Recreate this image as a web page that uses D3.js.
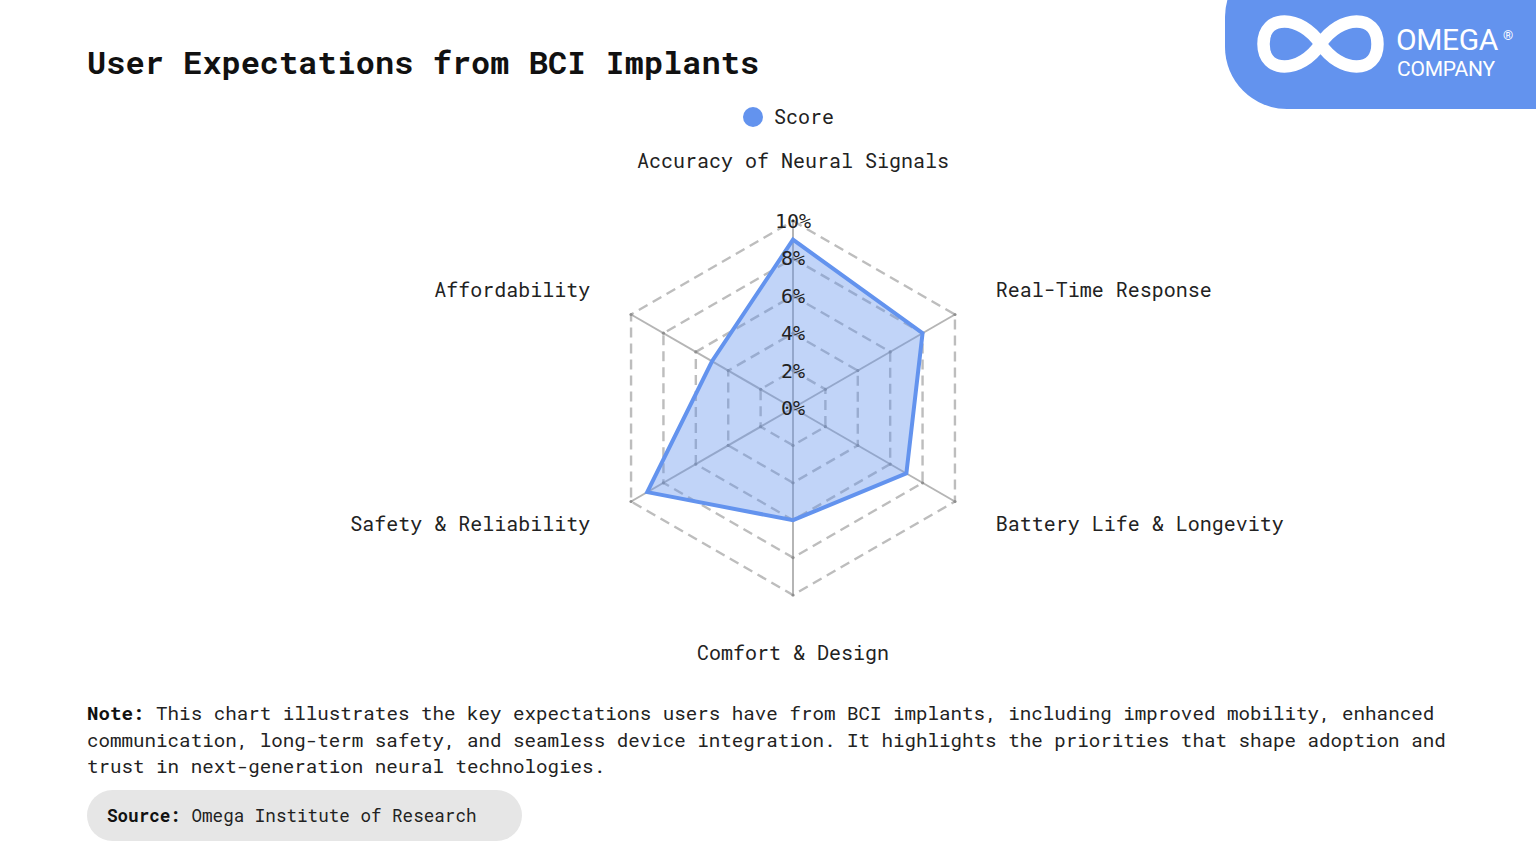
<!DOCTYPE html>
<html>
<head>
<meta charset="utf-8">
<script src="https://cdn.jsdelivr.net/npm/d3@7"></script>
<style>
  html, body { margin: 0; padding: 0; background: #fff; }
  svg { display: block; }
</style>
</head>
<body>
<svg id="chart" width="1536" height="864"></svg>
<script>
const categories = [
  "Accuracy of Neural Signals",
  "Real-Time Response",
  "Battery Life & Longevity",
  "Comfort & Design",
  "Safety & Reliability",
  "Affordability"
];
const scores = [9, 8, 7, 6, 9, 5];
const tickValues = [0, 2, 4, 6, 8, 10];
const tickLabels = ["0%", "2%", "4%", "6%", "8%", "10%"];
const seriesName = "Score";
const titleText = "User Expectations from BCI Implants";
const noteLines = [
  "This chart illustrates the key expectations users have from BCI implants, including improved mobility, enhanced",
  "communication, long-term safety, and seamless device integration. It highlights the priorities that shape adoption and",
  "trust in next-generation neural technologies."
];
const sourceText = "Omega Institute of Research";

const BLUE = "#6393ee";
const svg = d3.select("#chart");
const mono = '"Roboto Mono", "DejaVu Sans Mono", monospace';

// Logo
const logo = svg.append("g");
logo.append("rect").attr("x", 1225).attr("y", -45).attr("width", 420).attr("height", 154)
  .attr("rx", 62).attr("ry", 62).attr("fill", BLUE);
const cx0 = 1320.5, cy0 = 44;
const p = d3.path();
p.moveTo(cx0, cy0);
p.bezierCurveTo(cx0 + 20, cy0 - 30, cx0 + 57, cy0 - 30, cx0 + 57, cy0);
p.bezierCurveTo(cx0 + 57, cy0 + 30, cx0 + 20, cy0 + 30, cx0, cy0);
p.bezierCurveTo(cx0 - 20, cy0 - 30, cx0 - 57, cy0 - 30, cx0 - 57, cy0);
p.bezierCurveTo(cx0 - 57, cy0 + 30, cx0 - 20, cy0 + 30, cx0, cy0);
logo.append("path").attr("d", p.toString()).attr("fill", "none")
  .attr("stroke", "#fff").attr("stroke-width", 12.5).attr("stroke-linejoin", "round");
logo.append("text").attr("x", 1396).attr("y", 50).attr("fill", "#fff")
  .attr("font-family", "Roboto, sans-serif").attr("font-size", 30).attr("letter-spacing", -0.4)
  .text("OMEGA");
logo.append("text").attr("x", 1503).attr("y", 40).attr("fill", "#fff")
  .attr("font-family", "Roboto, sans-serif").attr("font-size", 13).text("®");
logo.append("text").attr("x", 1397).attr("y", 76).attr("fill", "#fff")
  .attr("font-family", "Roboto, sans-serif").attr("font-size", 21).attr("letter-spacing", -0.2)
  .text("COMPANY");

// Title
svg.append("text").attr("x", 87).attr("y", 74).attr("font-family", mono)
  .attr("font-size", 32).attr("font-weight", "bold").attr("fill", "#111").text(titleText);

// Legend
svg.append("circle").attr("cx", 753).attr("cy", 117).attr("r", 10).attr("fill", BLUE);
svg.append("text").attr("x", 774).attr("y", 117).attr("dy", "0.35em").attr("font-family", mono)
  .attr("font-size", 20).attr("fill", "#222").text(seriesName);

// Radar
const cx = 793, cy = 408, R = 187;
const r = d3.scaleLinear().domain([0, 10]).range([0, R]);
const n = categories.length;
const angle = i => i * 2 * Math.PI / n;
const g = svg.append("g").attr("transform", `translate(${cx},${cy})`);

const ringLine = d3.lineRadial().angle((d, i) => angle(i)).radius(d => d).curve(d3.curveLinearClosed);
tickValues.filter(t => t > 0).forEach(t => {
  g.append("path").attr("d", ringLine(categories.map(() => r(t))))
    .attr("fill", "none").attr("stroke", "#bdbdbd").attr("stroke-width", 2.4)
    .attr("stroke-dasharray", "10,6");
});
categories.forEach((c, i) => {
  const a = angle(i);
  g.append("line").attr("x1", 0).attr("y1", 0)
    .attr("x2", r(10) * Math.sin(a)).attr("y2", -r(10) * Math.cos(a))
    .attr("stroke", "#b5b5b5").attr("stroke-width", 2);
  tickValues.filter(t => t > 0).forEach(t => {
    g.append("circle").attr("cx", r(t) * Math.sin(a)).attr("cy", -r(t) * Math.cos(a))
      .attr("r", 1.6).attr("fill", "#8f8f8f");
  });
});

const areaLine = d3.lineRadial().angle((d, i) => angle(i)).radius(d => r(d)).curve(d3.curveLinearClosed);
g.append("path").attr("d", areaLine(scores))
  .attr("fill", BLUE).attr("fill-opacity", 0.4)
  .attr("stroke", BLUE).attr("stroke-width", 4).attr("stroke-linejoin", "miter");

// Tick labels
tickValues.forEach((t, i) => {
  g.append("text").attr("x", 0).attr("y", -r(t)).attr("dy", "0.35em")
    .attr("text-anchor", "middle").attr("font-family", '"DejaVu Sans Mono", monospace')
    .attr("font-size", 20).attr("fill", "#222").text(tickLabels[i]);
});

// Category labels
categories.forEach((c, i) => {
  const a = angle(i);
  const s = Math.sin(a), co = Math.cos(a);
  const vertical = Math.abs(s) < 0.01;
  const lr = vertical ? R + 58 : R + 47;
  const x = lr * s, y = -lr * co + (vertical ? (co > 0 ? -2 : 0) : -1.5);
  g.append("text").attr("x", x).attr("y", y).attr("dy", "0.35em")
    .attr("text-anchor", vertical ? "middle" : (s > 0 ? "start" : "end"))
    .attr("font-family", mono).attr("font-size", 20).attr("fill", "#222").text(c);
});

// Note
const note = svg.append("text").attr("font-family", mono).attr("font-size", 19.2).attr("fill", "#222");
noteLines.forEach((line, i) => {
  const ts = note.append("tspan").attr("x", 87).attr("y", 720 + i * 26.5);
  if (i === 0) {
    ts.append("tspan").attr("font-weight", "bold").attr("fill", "#111").text("Note:");
    ts.append("tspan").text(" " + line);
  } else {
    ts.text(line);
  }
});

// Source box
svg.append("rect").attr("x", 87).attr("y", 790).attr("width", 435).attr("height", 51)
  .attr("rx", 25.5).attr("fill", "#e6e6e6");
const src = svg.append("text").attr("x", 107).attr("y", 816).attr("dy", "0.35em")
  .attr("font-family", mono).attr("font-size", 17.6).attr("fill", "#222");
src.append("tspan").attr("font-weight", "bold").attr("fill", "#111").text("Source:");
src.append("tspan").text(" " + sourceText);
</script>
</body>
</html>
